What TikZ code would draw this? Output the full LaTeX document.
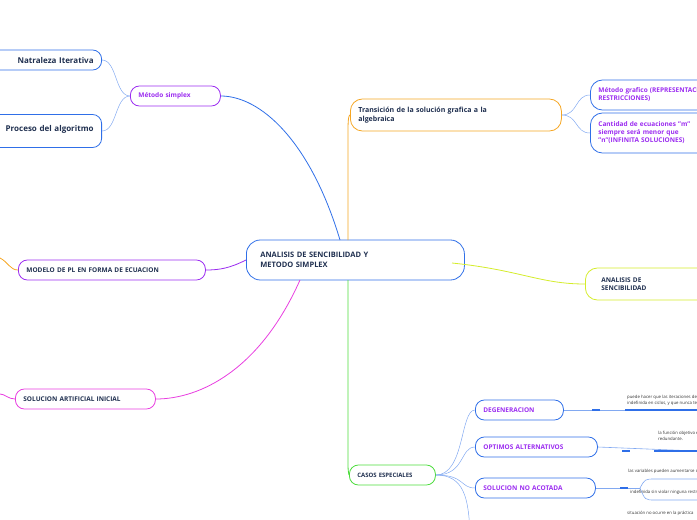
\documentclass[tikz,border=0pt]{standalone}
\usepackage{fontspec}
\setmainfont{Open Sans}
\begin{document}
\begin{tikzpicture}[x=1pt,y=-1pt,
 box/.style={draw,rounded corners=9pt,line width=0.8pt,minimum height=20pt,inner xsep=8pt,font=\fontsize{6.5}{8}\selectfont\bfseries,anchor=west,align=left},
 small/.style={font=\fontsize{4.3}{6}\selectfont,anchor=west,align=left,text=black!80,inner sep=0pt},
 con/.style={line width=0.8pt}]
\definecolor{cblue}{HTML}{2F6FE8}\definecolor{cpurp}{HTML}{9B2CF0}\definecolor{corng}{HTML}{F5A623}
\definecolor{cmag}{HTML}{E83EE0}\definecolor{cgrn}{HTML}{4CDC3C}\definecolor{cyel}{HTML}{D4EC2A}\definecolor{cdark}{HTML}{1F2F4F}
\useasboundingbox (0,0) rectangle (697,520);
\begin{scope}
\clip (0,0) rectangle (697,520);
\node[box,draw=cblue,text width=190pt,minimum height=40pt,rounded corners=14pt,font=\fontsize{7.5}{10}\selectfont\bfseries,text=cdark,inner xsep=14pt] (c) at (246,260) {ANALISIS DE SENCIBILIDAD Y\\METODO SIMPLEX};
\node[box,draw=cpurp,text=cpurp,text width=74pt] (ms) at (130,96) {Método simplex};
\node[box,draw=cblue,text=cdark,text width=110pt,align=right,font=\fontsize{8}{9}\selectfont\bfseries,anchor=east] (ni) at (102,60) {Natraleza Iterativa};
\node[box,draw=cblue,text=cdark,text width=110pt,align=right,minimum height=33pt,font=\fontsize{8}{9}\selectfont\bfseries,anchor=east] (al) at (102,131) {\raisebox{6pt}{Proceso del algoritmo}};
\node[box,draw=cpurp,text=cdark,text width=171pt] (mo) at (18,270) {MODELO DE PL EN FORMA DE ECUACION};
\node[box,draw=cmag,text=cdark,text width=124pt] (sa) at (15,399) {SOLUCION ARTIFICIAL INICIAL};
\node[box,draw=corng,text=cdark,text width=195pt,minimum height=32pt,rounded corners=12pt,font=\fontsize{7}{9}\selectfont\bfseries] (tr) at (350,115) {Transición de la solución grafica a la\\algebraica};
\node[box,draw=cblue,text=cpurp,text width=130pt,minimum height=30pt,rounded corners=12pt] (mg) at (590,95) {Método grafico (REPRESENTACION DE\\RESTRICCIONES)};
\node[box,draw=cblue,text=cpurp,text width=130pt,minimum height=40pt,rounded corners=12pt] (ce) at (590,133) {Cantidad de ecuaciones "m"\\siempre será menor que\\"n"(INFINITA SOLUCIONES)};
\node[box,draw=cyel,text=cdark,text width=130pt,minimum height=32pt,inner xsep=16pt,rounded corners=12pt] (as) at (585,284) {ANALISIS DE\\SENCIBILIDAD};
\node[box,draw=cgrn,text=cdark,text width=70pt,font=\fontsize{6}{8}\selectfont\bfseries] (ca) at (349,475) {CASOS ESPECIALES};
\node[box,draw=cblue,text=cpurp,text width=72pt] (de) at (475,410) {DEGENERACION};
\node[box,draw=cblue,text=cpurp,text width=106pt] (op) at (475,447) {OPTIMOS ALTERNATIVOS};
\node[box,draw=cblue,text=cpurp,text width=104pt] (so) at (475,488) {SOLUCION NO ACOTADA};
\coordinate (x4) at (470,530);
% connectors
\draw[con,cblue] (340,240) .. controls (310,140) and (260,96) .. (ms.east);
\draw[cblue!60,line width=0.5pt] (ms.west) .. controls (115,96) and (117,60) .. (ni.east);
\draw[cblue!60,line width=0.5pt] (ms.west) .. controls (115,96) and (117,131) .. (al.east);
\draw[con,cpurp] (c.west) .. controls (230,268) and (220,270) .. (mo.east);
\draw[con,corng] (mo.west) .. controls (10,270) and (8,262) .. (0,258);
\draw[con,cmag] (300,280) .. controls (260,370) and (200,399) .. (sa.east);
\draw[con,cmag] (sa.west) .. controls (8,399) and (5,394) .. (0,394);
\draw[con,corng] (348,240) -- (348,130) .. controls (348,118) and (349,115) .. (tr.west);
\draw[cblue!60,line width=0.5pt] (tr.east) .. controls (578,115) and (575,95) .. (mg.west);
\draw[cblue!60,line width=0.5pt] (tr.east) .. controls (578,115) and (575,133) .. (ce.west);
\draw[con,cyel] (452,263) .. controls (520,270) and (540,284) .. (as.west);
\draw[con,cgrn] (348,280) -- (348,465) .. controls (348,472) and (349,475) .. (ca.west);
\draw[cblue!60,line width=0.5pt] (ca.east) .. controls (465,475) and (460,410) .. (de.west);
\draw[cblue!60,line width=0.5pt] (ca.east) .. controls (465,475) and (460,447) .. (op.west);
\draw[cblue!60,line width=0.5pt] (ca.east) .. controls (465,475) and (460,488) .. (so.west);
\draw[cblue!60,line width=0.5pt] (ca.east) .. controls (465,475) and (468,500) .. (x4);
% leaf lines
\draw[cblue!60,line width=0.6pt] (de.east) -- (697,410);
\draw[cblue,line width=1.2pt] (592,410) -- (600,410) (625,410) -- (697,410);
\draw[cblue!60,line width=0.6pt] (op.east) -- (697,451);
\draw[cblue,line width=1.2pt] (622,451) -- (630,451) (654,451) -- (697,451);
\draw[cblue!60,line width=0.6pt] (so.east) -- (640,488);
\draw[cblue,line width=1.2pt] (620,488) -- (628,488);
\draw[cblue!60,line width=0.6pt] (640,488) .. controls (645,479) .. (655,479) -- (697,479);
\draw[cblue!60,line width=0.6pt] (640,488) .. controls (645,500) .. (655,500) -- (697,500);
\node[small] (t1) at (627,400) {puede hacer que las iteraciones del simplex entren de forma\\indefinida en ciclos, y que nunca termine el algoritmo};
\node[small] (t2) at (658,436) {la función objetivo es paralela a una restricción no\\redundante.};
\node[small] (t3) at (628,471) {las variables pueden aumentarse de forma};
\node[small] (t4) at (630,492) {indefinida sin violar ninguna restricción};
\node[small] (t5) at (627,513) {situación no ocurre en la práctica};
\end{scope}
\end{tikzpicture}
\end{document}
